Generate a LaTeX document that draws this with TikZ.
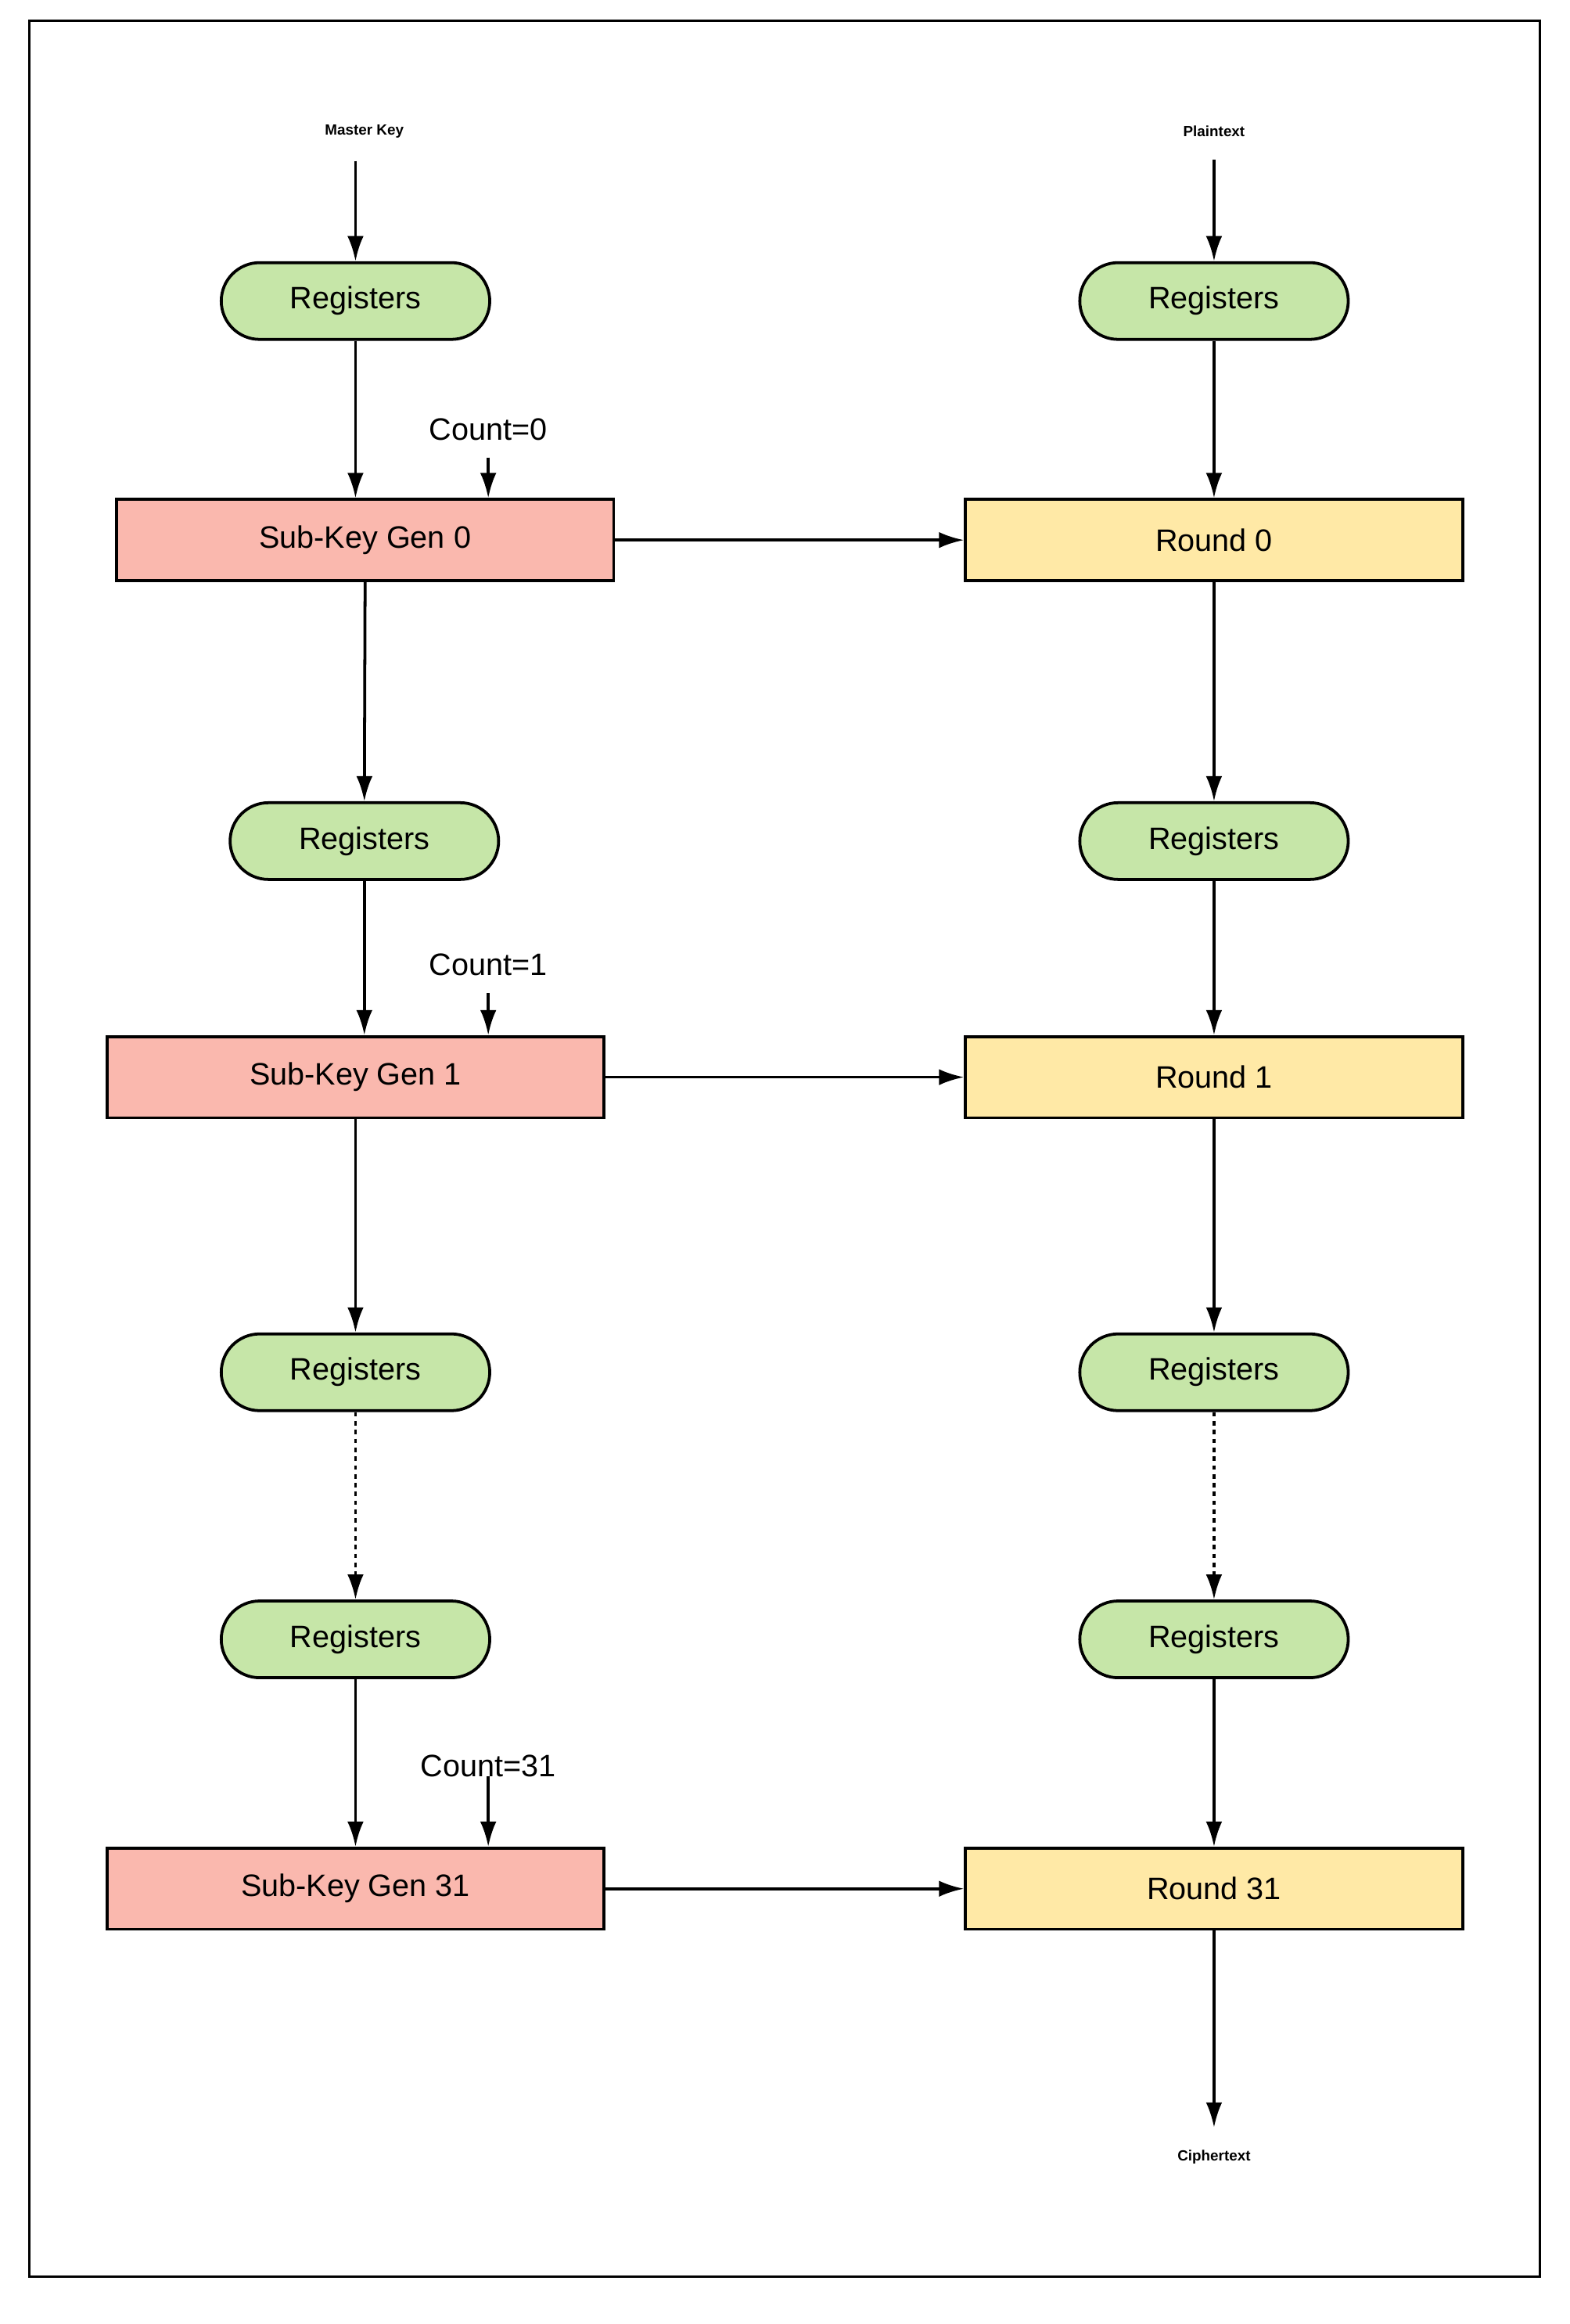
\documentclass[tikz,border=0pt]{standalone}
\usepackage{fontspec}
\setmainfont{Liberation Sans}
\usetikzlibrary{arrows.meta,shapes.misc}
\definecolor{regfill}{HTML}{C6E6A8}
\definecolor{keyfill}{HTML}{FAB8AE}
\definecolor{rndfill}{HTML}{FFE9A6}
\tikzset{
	reg/.style={rounded rectangle,draw,line width=2pt,fill=regfill,minimum width=182pt,minimum height=52pt,inner sep=0pt},
	keybox/.style={rectangle,draw,line width=2pt,fill=keyfill,minimum width=337pt,minimum height=55pt,inner sep=0pt},
	rndbox/.style={rectangle,draw,line width=2pt,fill=rndfill,minimum width=337pt,minimum height=55pt,inner sep=0pt},
	lbl/.style={font=\bfseries},
	arr/.style={line width=2pt,-{Latex[length=17pt,width=11pt]}}
}
\begin{document}
\begin{tikzpicture}[x=1pt,y=-1pt,font=\fontsize{21}{25}\selectfont]
		\useasboundingbox (0,0) rectangle (1064,1575);
		\draw[line width=1.5pt] (20,14) rectangle (1044,1543);
		
		% key schedule
		\node[lbl] (mk) at (247,89) {Master Key};
		\node[reg] (kr1) at (241,204) {Registers};
		\node[keybox] (sk0) at (247.5,366) {Sub-Key Gen 0};
		\node (c0) at (331,291) {Count=0};
		\node[reg] (kr2) at (247,570) {Registers};
		\node[keybox] (sk1) at (241,730) {Sub-Key Gen 1};
		\node (c1) at (331,654) {Count=1};
		\node[reg] (kr3) at (241,930) {Registers};
		\node[reg] (kr4) at (241,1111) {Registers};
		\node[keybox] (sk31) at (241,1280) {Sub-Key Gen 31};
		\node (c31) at (331,1197) {Count=31};
		
		% data path
		\node[lbl] (pt) at (823,89) {Plaintext};
		\node[reg] (dr1) at (823,204) {Registers};
		\node[rndbox] (r0) at (823,366) {Round 0};
		\node[reg] (dr2) at (823,570) {Registers};
		\node[rndbox] (r1) at (823,730) {Round 1};
		\node[reg] (dr3) at (823,930) {Registers};
		\node[reg] (dr4) at (823,1111) {Registers};
		\node[rndbox] (r31) at (823,1280) {Round 31};
		\node[lbl] (ct) at (823,1462) {Ciphertext};
		
		\draw[arr] ([yshift=-12pt]mk.south -| kr1) -- (kr1.north);
		\draw[arr] (kr1.south) -- (kr1.south |- sk0.north);
		\draw[arr] ([yshift=-8pt]c0.south) -- (c0.south |- sk0.north);
		\draw[arr] (sk0.south) -- (kr2.north);
		\draw[arr] (kr2.south) -- (kr2.south |- sk1.north);
		\draw[arr] ([yshift=-8pt]c1.south) -- (c1.south |- sk1.north);
		\draw[arr] (sk1.south) -- (kr3.north);
		\draw[arr,dashed] (kr3.south) -- (kr4.north);
		\draw[arr] (kr4.south) -- (sk31.north);
		\draw[arr] ([yshift=4pt]c31.south) -- (c31.south |- sk31.north);
		
		\draw[arr] ([yshift=-12pt]pt.south) -- (dr1.north);
		\foreach \a/\b in {dr1/r0,r0/dr2,dr2/r1,r1/dr3,dr4/r31}{
			\draw[arr] (\a.south) -- (\b.north);
		}
		\draw[arr,dashed] (dr3.south) -- (dr4.north);
		\draw[arr] (r31.south) -- ([yshift=12pt]ct.north);
		
		\draw[arr] (sk0.east) -- (r0.west);
		\draw[arr] (sk1.east) -- (r1.west);
		\draw[arr] (sk31.east) -- (r31.west);
	\end{tikzpicture}
\end{document}
